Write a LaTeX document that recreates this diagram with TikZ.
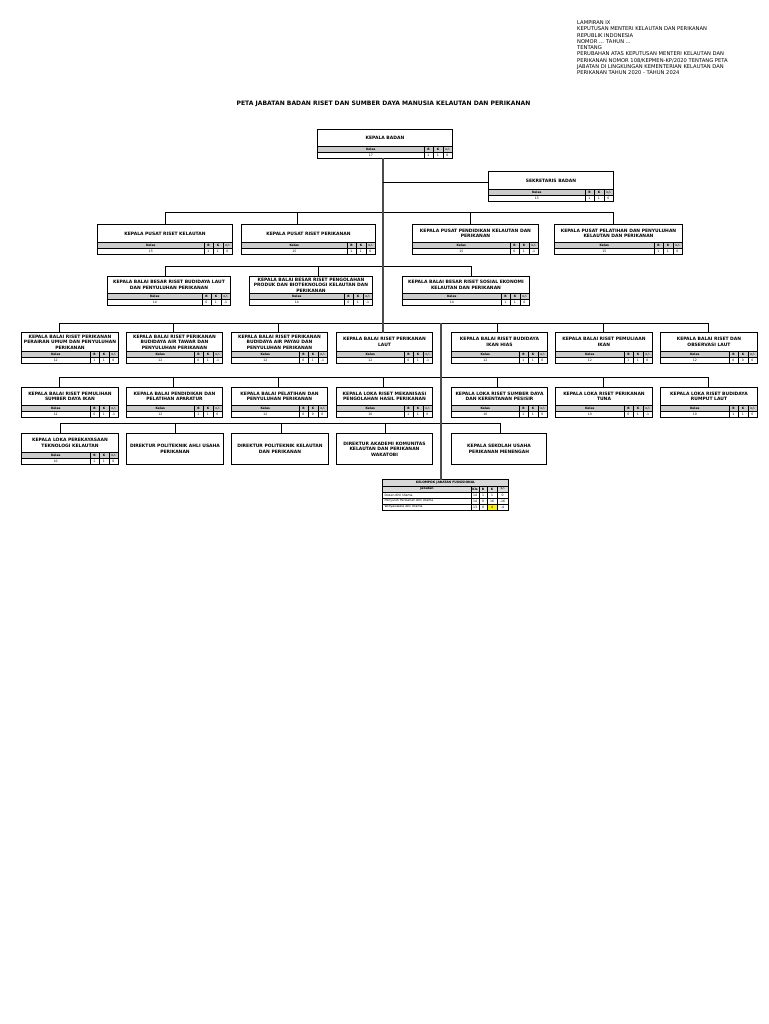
\documentclass[tikz,border=0pt]{standalone}
\usepackage{fontspec}
\setmainfont{DejaVu Sans}
\usetikzlibrary{calc,fit}
\tikzset{
  ttl/.style={font=\fontsize{4.5}{5.4}\selectfont\bfseries, align=center, inner sep=0pt},
  sml/.style={font=\fontsize{3.1}{3.1}\selectfont\bfseries, inner sep=0pt},
  val/.style={font=\fontsize{3.1}{3.1}\selectfont, inner sep=0pt},
  conn/.style={line width=0.9pt, black},
  trunk/.style={line width=1.6pt, black!70},
  frame/.style={line width=0.8pt, black},
  tframe/.style={line width=1.2pt, black},
  cell/.style={line width=0.4pt, black},
}
% job box: name, (x1,y1), (x2,y2), title, kelas, B, K, +/-
\newcommand\jbox[8]{%
  \coordinate (#1nw) at #2; \coordinate (#1se) at #3;
  \node[fit=(#1nw)(#1se), inner sep=0pt] (#1) {};
  \fill[gray!40] ($(#1.south west)+(0,-12)$) rectangle ($(#1.south east)+(0,-6)$);
  \draw[cell] ($(#1.south west)+(0,-12)$) -- ($(#1.south east)+(0,-12)$);
  \draw[cell] ($(#1.south west)+(0,-6)$) -- ($(#1.south east)+(0,-6)$);
  \foreach \k in {1,2,3}{\draw[cell] ($(#1.south east)+(-\k*9.5,0)$) -- ++(0,-12);}
  \draw[frame] (#1.north west) rectangle (#1.south east);
  \node[ttl] at ($(#1.north)!0.5!(#1.south)+(0,-6)$) {#4};
  \node[sml] at ($(#1.south)+(-14.25,-9)$) {Kelas};
  \node[sml] at ($(#1.south east)+(-23.75,-9)$) {B};
  \node[sml] at ($(#1.south east)+(-14.25,-9)$) {K};
  \node[sml] at ($(#1.south east)+(-4.75,-9)$) {+/-};
  \node[val] at ($(#1.south)+(-14.25,-3)$) {#5};
  \node[val] at ($(#1.south east)+(-23.75,-3)$) {#6};
  \node[val] at ($(#1.south east)+(-14.25,-3)$) {#7};
  \node[val] at ($(#1.south east)+(-4.75,-3)$) {#8};
}
% text-only box
\newcommand\tbox[4]{%
  \coordinate (#1nw) at #2; \coordinate (#1se) at #3;
  \node[fit=(#1nw)(#1se), inner sep=0pt] (#1) {};
  \draw[tframe] (#1.north west) rectangle (#1.south east);
  \node[ttl] at (#1.center) {#4};
}
% drop from bus to box top
\newcommand\drop[3]{%
  \coordinate (#1t) at ($(#1.north west)!#2!(#1.north east)$);
  \draw[conn] (#1t) -- (#1t |- #3);
}
\begin{document}
\begin{tikzpicture}[x=1pt,y=-1pt]
\useasboundingbox[fill=white] (0,0) rectangle (768,1024);

% header
\node[anchor=north west, align=left, inner sep=0pt, font=\fontsize{5.2}{6.3}\selectfont] (hdr) at (577,20.5)
 {LAMPIRAN IX\\KEPUTUSAN MENTERI KELAUTAN DAN PERIKANAN\\REPUBLIK INDONESIA\\NOMOR ... TAHUN ...\\TENTANG\\PERUBAHAN ATAS KEPUTUSAN MENTERI KELAUTAN DAN\\PERIKANAN NOMOR 108/KEPMEN-KP/2020 TENTANG PETA\\JABATAN DI LINGKUNGAN KEMENTERIAN KELAUTAN DAN\\PERIKANAN TAHUN 2020 - TAHUN 2024};

\node[font=\fontsize{6.05}{6.1}\selectfont\bfseries, inner sep=0pt] (title) at (383.5,104)
 {PETA JABATAN BADAN RISET DAN SUMBER DAYA MANUSIA KELAUTAN DAN PERIKANAN};

% row 1
\jbox{KB}{(318,130)}{(452,158)}{KEPALA BADAN}{17}{1}{1}{0}
\jbox{SB}{(489,172)}{(613,201)}{SEKRETARIS BADAN}{15}{1}{1}{0}
% row 2
\jbox{P1}{(98,225)}{(232,254)}{KEPALA PUSAT RISET KELAUTAN}{15}{1}{1}{0}
\jbox{P2}{(242,225)}{(375,254)}{KEPALA PUSAT RISET PERIKANAN}{15}{1}{1}{0}
\jbox{P3}{(413,225)}{(538,254)}{KEPALA PUSAT PENDIDIKAN KELAUTAN DAN\\PERIKANAN}{15}{0}{1}{-1}
\jbox{P4}{(555,225)}{(682,254)}{KEPALA PUSAT PELATIHAN DAN PENYULUHAN\\KELAUTAN DAN PERIKANAN}{15}{1}{1}{0}
% row 3
\jbox{BB1}{(108,277)}{(230,305)}{KEPALA BALAI BESAR RISET BUDIDAYA LAUT\\DAN PENYULUHAN PERIKANAN}{14}{0}{1}{-1}
\jbox{BB2}{(250,277)}{(372,305)}{KEPALA BALAI BESAR RISET PENGOLAHAN\\PRODUK DAN BIOTEKNOLOGI KELAUTAN DAN\\PERIKANAN}{14}{0}{1}{-1}
\jbox{BB3}{(403,277)}{(529,305)}{KEPALA BALAI BESAR RISET SOSIAL EKONOMI\\KELAUTAN DAN PERIKANAN}{14}{1}{1}{0}
% row 4
\jbox{RAa}{(22,333)}{(118,363)}{KEPALA BALAI RISET PERIKANAN\\PERAIRAN UMUM DAN PENYULUHAN\\PERIKANAN}{12}{1}{1}{0}
\jbox{RAb}{(127,333)}{(222,363)}{KEPALA BALAI RISET PERIKANAN\\BUDIDAYA AIR TAWAR DAN\\PENYULUHAN PERIKANAN}{12}{0}{1}{-1}
\jbox{RAc}{(232,333)}{(327,363)}{KEPALA BALAI RISET PERIKANAN\\BUDIDAYA AIR PAYAU DAN\\PENYULUHAN PERIKANAN}{12}{0}{1}{-1}
\jbox{RAd}{(337,333)}{(432,363)}{KEPALA BALAI RISET PERIKANAN\\LAUT}{12}{0}{1}{-1}
\jbox{RAe}{(452,333)}{(547,363)}{KEPALA BALAI RISET BUDIDAYA\\IKAN HIAS}{12}{1}{1}{0}
\jbox{RAf}{(556,333)}{(652,363)}{KEPALA BALAI RISET PEMULIAAN\\IKAN}{12}{1}{1}{0}
\jbox{RAg}{(661,333)}{(757,363)}{KEPALA BALAI RISET DAN\\OBSERVASI LAUT}{12}{0}{0}{0}
% row 5
\jbox{RBa}{(22,388)}{(118,417)}{KEPALA BALAI RISET PEMULIHAN\\SUMBER DAYA IKAN}{12}{0}{1}{-1}
\jbox{RBb}{(127,388)}{(222,417)}{KEPALA BALAI PENDIDIKAN DAN\\PELATIHAN APARATUR}{12}{1}{1}{0}
\jbox{RBc}{(232,388)}{(327,417)}{KEPALA BALAI PELATIHAN DAN\\PENYULUHAN PERIKANAN}{12}{0}{0}{0}
\jbox{RBd}{(337,388)}{(432,417)}{KEPALA LOKA RISET MEKANISASI\\PENGOLAHAN HASIL PERIKANAN}{10}{1}{1}{0}
\jbox{RBe}{(452,388)}{(547,417)}{KEPALA LOKA RISET SUMBER DAYA\\DAN KERENTANAN PESISIR}{10}{1}{1}{0}
\jbox{RBf}{(556,388)}{(652,417)}{KEPALA LOKA RISET PERIKANAN\\TUNA}{10}{0}{1}{-1}
\jbox{RBg}{(661,388)}{(757,417)}{KEPALA LOKA RISET BUDIDAYA\\RUMPUT LAUT}{10}{1}{1}{0}
% row 6
\jbox{RCa}{(22,434)}{(118,464)}{KEPALA LOKA PEREKAYASAAN\\TEKNOLOGI KELAUTAN}{10}{1}{1}{0}
\tbox{RCb}{(127,434)}{(223,464)}{DIREKTUR POLITEKNIK AHLI USAHA\\PERIKANAN}
\tbox{RCc}{(232,434)}{(328,464)}{DIREKTUR POLITEKNIK KELAUTAN\\DAN PERIKANAN}
\tbox{RCd}{(337,434)}{(432,464)}{DIREKTUR AKADEMI KOMUNITAS\\KELAUTAN DAN PERIKANAN\\WAKATOBI}
\tbox{RCe}{(452,434)}{(546,464)}{KEPALA SEKOLAH USAHA\\PERIKANAN MENENGAH}

% functional table
\coordinate (Tnw) at (383,480); \coordinate (Tse) at (508,510);
\node[fit=(Tnw)(Tse), inner sep=0pt] (T) {};
\fill[gray!30] (383,480) rectangle (508,492);
\fill[yellow] (487,504) rectangle (497,510);
\foreach \yy in {486,492,498,504}{\draw[cell] (383,\yy) -- (508,\yy);}
\foreach \xx in {471,479,487,497}{\draw[cell] (\xx,486) -- (\xx,510);}
\draw[frame] (T.north west) rectangle (T.south east);
\node[sml] at (445.5,483) {KELOMPOK JABATAN FUNGSIONAL};
\node[sml] at (427,489) {Jabatan};
\node[sml] at (475,489) {Kls};
\node[sml] at (483,489) {B};
\node[sml] at (492,489) {K};
\node[sml] at (502.5,489) {+/-};
\node[val, anchor=west] at (384.5,495) {Dosen Ahli Utama};
\node[val, anchor=west] at (384.5,501) {Penyuluh Perikanan Ahli Utama};
\node[val, anchor=west] at (384.5,507) {Widyaiswara Ahli Utama};
\foreach \yy/\a/\b/\c/\d in {495/14/1/1/0, 501/14/0/16/-16, 507/13/0/4/-4}{
  \node[val] at (475,\yy) {\a};
  \node[val] at (483,\yy) {\b};
  \node[val] at (492,\yy) {\c};
  \node[val] at (502.5,\yy) {\d};
}

% bus levels
\coordinate (busA) at (0,212);
\coordinate (busB) at (0,266);
\coordinate (busC) at (0,323);
\coordinate (busD) at (0,377);
\coordinate (busE) at (0,423.5);

% drops
\drop{P1}{0.5}{busA} \drop{P2}{0.42}{busA} \drop{P3}{0.46}{busA} \drop{P4}{0.46}{busA}
\drop{BB1}{0.47}{busB} \drop{BB2}{0.56}{busB} \drop{BB3}{0.54}{busB}
\drop{RAa}{0.39}{busC} \drop{RAb}{0.49}{busC} \drop{RAc}{0.49}{busC}
\drop{RAe}{0.48}{busC} \drop{RAf}{0.49}{busC} \drop{RAg}{0.49}{busC}
\drop{RBa}{0.39}{busD} \drop{RBb}{0.49}{busD} \drop{RBc}{0.49}{busD} \drop{RBd}{0.49}{busD}
\drop{RBe}{0.48}{busD} \drop{RBf}{0.49}{busD} \drop{RBg}{0.49}{busD}
\drop{RCa}{0.40}{busE} \drop{RCb}{0.50}{busE} \drop{RCc}{0.51}{busE} \drop{RCd}{0.51}{busE} \drop{RCe}{0.52}{busE}

% bus lines
\draw[conn] (P1t |- busA) -- (P4t |- busA);
\draw[conn] (BB1t |- busB) -- (BB3t |- busB);
\draw[conn] (RAat |- busC) -- (RAgt |- busC);
\draw[conn] (RBat |- busD) -- (RBgt |- busD);
\draw[conn] (RCat |- busE) -- (RCet |- busE);

% trunk from Kepala Badan to Balai Riset Perikanan Laut
\coordinate (RAdt) at ($(RAd.north west)!0.485!(RAd.north east)$);
\draw[trunk] (RAdt |- KB.south) -- (RAdt);
% Sekretaris Badan
\coordinate (SBc) at ($(SB.north west)+(0,11)$);
\draw[conn] (SBc -| RAdt) -- (SBc);
% vertical to functional group table
\coordinate (Tt) at ($(T.north west)!0.464!(T.north east)$);
\draw[trunk] (Tt |- busC) -- (Tt);
\end{tikzpicture}
\end{document}
